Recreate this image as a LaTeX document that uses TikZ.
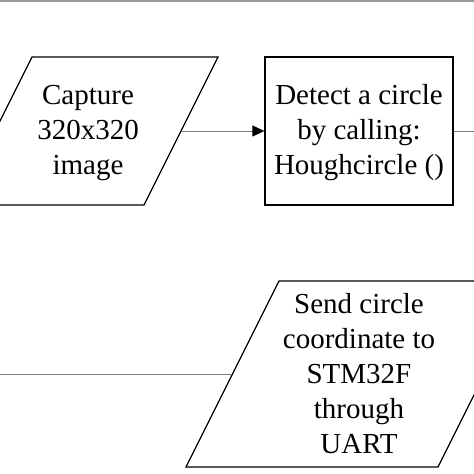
\documentclass[tikz,border=0pt]{standalone}
\usepackage{fontspec}
\setmainfont{Liberation Serif}
\usetikzlibrary{arrows.meta}
\begin{document}
\begin{tikzpicture}[x=1pt,y=1pt,
  shapeline/.style={draw=black,line width=1.3pt,line join=miter},
  conn/.style={draw=black!50,line width=1pt},
  lbl/.style={align=center,font=\fontsize{29}{35}\selectfont,inner sep=0pt},
  boxnode/.style={draw=black,line width=1.3pt,minimum width=188pt,minimum height=148pt,inner sep=0pt}]
\useasboundingbox (0,0) rectangle (474,-474);
\clip (0,0) rectangle (474,-474);
\fill[white] (0,0) rectangle (474,-474);
% top rule
\draw[draw=black!40,line width=2.4pt] (0,-1) -- (474,-1);
% capture parallelogram
\draw[shapeline] (32,-57) -- (218,-57) -- (144,-205) -- (-42,-205) -- cycle;
\node[lbl] (cap) at (88,-133) {Capture\\320x320\\image};
\coordinate (capR) at (181,-131);
% detect box
\node[boxnode,draw,line width=1.3pt] (det) at (359,-131) {};
\node[lbl] (dettext) at (359,-133) {Detect a circle\\by calling:\\Houghcircle ()};
\coordinate (rightA) at (474,-131);
% send parallelogram
\draw[shapeline] (279,-281) -- (531,-281) -- (438,-467) -- (186,-467) -- cycle;
\node[lbl] (send) at (359,-374) {Send circle\\coordinate to\\STM32F\\through\\UART};
\coordinate (sendL) at (232,-374);
\coordinate (leftB) at (0,-374);
% connectors
\draw[conn,-{Triangle[length=12pt,width=11pt,black]}] (capR) -- (det.west);
\draw[conn] (det.east) -- (rightA);
\draw[conn] (leftB) -- (sendL);
\end{tikzpicture}
\end{document}
